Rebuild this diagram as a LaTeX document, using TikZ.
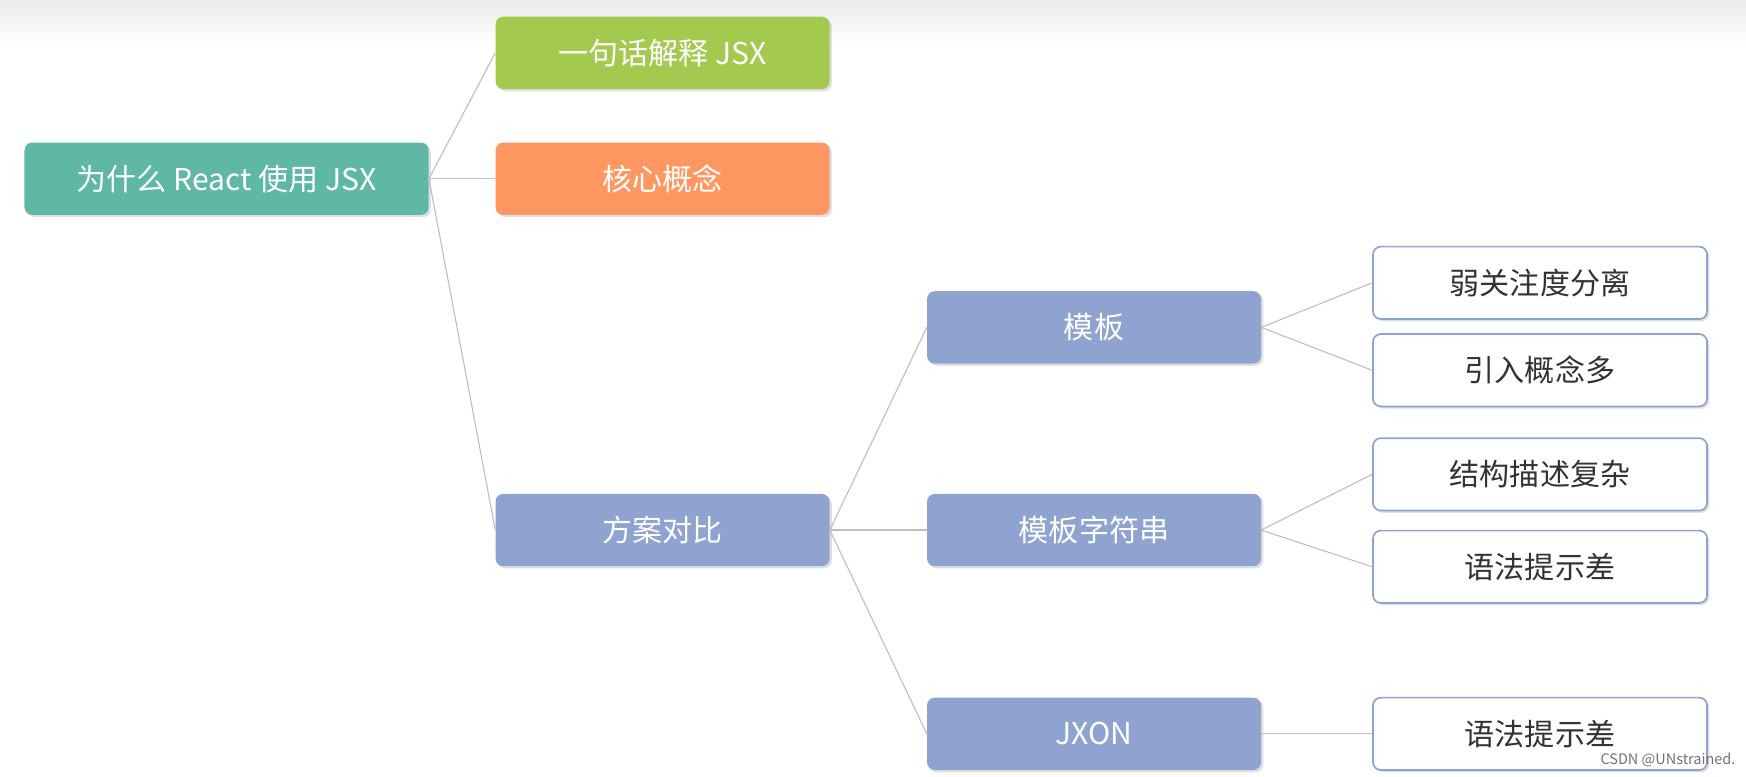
\documentclass[tikz,border=0pt]{standalone}
\usepackage{fontspec}
\setmainfont{Noto Sans CJK SC}
\usetikzlibrary{shadows,calc}
\definecolor{teal}{HTML}{5FB8A5}
\definecolor{grn}{HTML}{A3C94E}
\definecolor{org}{HTML}{FF9762}
\definecolor{blu}{HTML}{8FA3D0}
\definecolor{txt}{HTML}{333333}
\begin{document}
\begin{tikzpicture}[x=1pt,y=-1pt,
 box/.style={minimum width=300pt,minimum height=65pt,rounded corners=7pt,inner sep=0pt,
   drop shadow={shadow xshift=2pt,shadow yshift=-2pt,opacity=0.25},
   font=\fontsize{27}{30}\selectfont},
 main/.style={box,fill=#1,text=white},
 leaf/.style={box,fill=white,draw=blu,line width=1.5pt,text=txt},
 link/.style={draw=black!25,line width=1pt}]
\useasboundingbox (0,0) rectangle (1568,697);
\shade[top color=black!8,bottom color=white] (0,0) rectangle (1568,40);
\node[main=teal,minimum width=363pt] (root) at (203.5,160.5) {为什么 React 使用 JSX};
\node[main=grn] (a) at (595,47.5) {一句话解释 JSX};
\node[main=org] (b) at (595,160.5) {核心概念};
\node[main=blu] (c) at (595,476) {方案对比};
\node[main=blu] (m1) at (982.5,294) {模板};
\node[main=blu] (m2) at (982.5,476) {模板字符串};
\node[main=blu] (m3) at (982.5,659) {JXON};
\node[leaf] (l1) at (1383,254) {弱关注度分离};
\node[leaf] (l2) at (1383,332.5) {引入概念多};
\node[leaf] (l3) at (1383,426) {结构描述复杂};
\node[leaf] (l4) at (1383,509) {语法提示差};
\node[leaf] (l5) at (1383,659) {语法提示差};
\foreach \s/\t in {root/a,root/b,root/c,c/m1,c/m2,c/m3,m1/l1,m1/l2,m2/l3,m2/l4,m3/l5}{
 \path[link] (\s.east)
  .. controls ($(\s.east)!0.5!(\t.west)$ |- \s.east) and ($(\s.east)!0.5!(\t.west)$ |- \t.west) .. (\t.west);
}
\node[text=black!55,font=\fontsize{13}{14}\selectfont,anchor=south east] (wm) at (1562,692) {CSDN @UNstrained.};
\end{tikzpicture}
\end{document}
